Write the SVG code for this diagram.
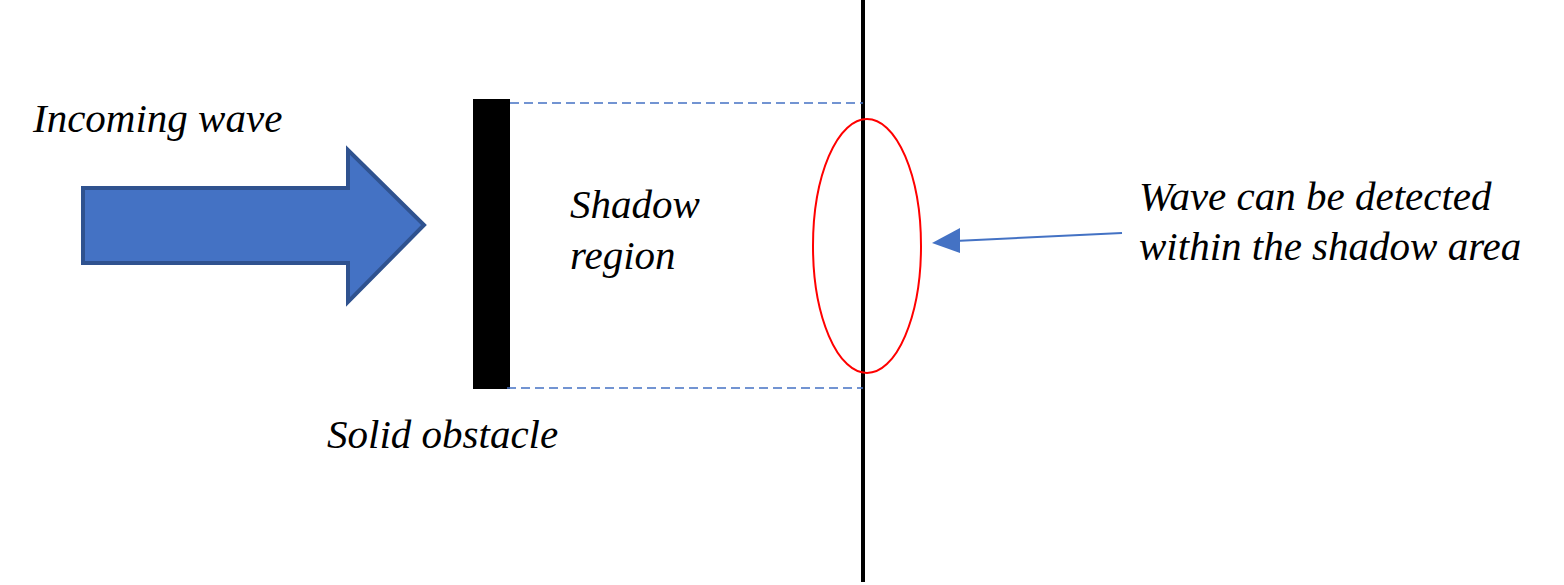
<svg xmlns="http://www.w3.org/2000/svg" width="1564" height="585" viewBox="0 0 1564 585">
<rect width="1564" height="585" fill="#fff"/>
<g id="wave-arrow">
<polygon points="83,188 348,188 348,150 424,225 348,302 348,263 83,263" fill="#4472C4" stroke="#2F528F" stroke-width="4" stroke-linejoin="miter"/>
</g>
<g id="obstacle">
<rect x="473" y="99" width="37" height="290" fill="#000"/>
</g>
<g id="screen">
<line x1="863" y1="0" x2="863" y2="582" stroke="#000" stroke-width="4"/>
</g>
<g id="detection-ellipse">
<ellipse cx="867" cy="246" rx="54" ry="127" fill="none" stroke="#FF0000" stroke-width="2"/>
</g>
<g id="connectors">
<g stroke="#4472C4" stroke-width="1.6" stroke-dasharray="9,5" fill="none">
<line x1="510" y1="103" x2="863" y2="103"/>
<line x1="507" y1="388" x2="863" y2="388"/>
</g>
<line x1="1122" y1="233" x2="955" y2="241" stroke="#4472C4" stroke-width="2"/>
<polygon points="932,243 960,228 960,253" fill="#4472C4"/>
</g>
<g id="labels" font-family="'Liberation Serif', serif" font-style="italic" font-size="41" fill="#000">
<text x="33" y="132">Incoming wave</text>
<text x="570" y="218">Shadow</text>
<text x="570" y="269">region</text>
<text x="327" y="448">Solid obstacle</text>
<text x="1139" y="210">Wave can be detected</text>
<text x="1139" y="260">within the shadow area</text>
</g>
</svg>
